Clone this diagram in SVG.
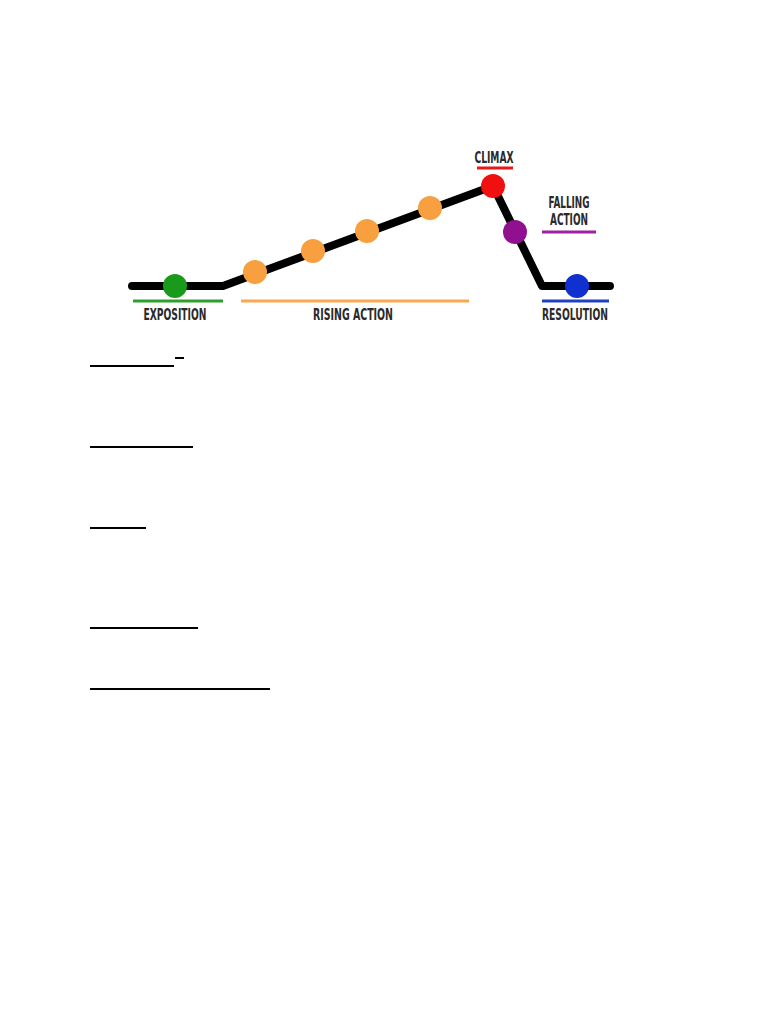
<svg xmlns="http://www.w3.org/2000/svg" width="768" height="1024" viewBox="0 0 768 1024">
<style>
.lbl{font-family:"DejaVu Sans Condensed","Liberation Sans Narrow","Liberation Sans",sans-serif;font-stretch:condensed;font-size:15px;font-weight:bold;fill:#2a2a2a;text-anchor:middle}
.dot{stroke:none}
.ul{stroke-width:3;fill:none}
.blank{stroke:#000;stroke-width:2;fill:none}
</style>
<rect width="768" height="1024" fill="#fff"/>
<g id="connectors">
<polyline points="132,286 223,286 493,186 542,286 610,286" fill="none" stroke="#000" stroke-width="8" stroke-linejoin="round" stroke-linecap="round"/>
</g>
<g id="exposition">
<circle class="dot" cx="175" cy="286" r="12" fill="#1a9a1a"/>
<line class="ul" x1="133" y1="301" x2="223" y2="301" stroke="#2ca02c"/>
<text class="lbl" x="175" y="320" textLength="63" lengthAdjust="spacingAndGlyphs">EXPOSITION</text>
</g>
<g id="rising-action">
<circle class="dot" cx="255" cy="272" r="12" fill="#f8a040"/>
<circle class="dot" cx="313" cy="251" r="12" fill="#f8a040"/>
<circle class="dot" cx="367" cy="231" r="12" fill="#f8a040"/>
<circle class="dot" cx="430" cy="208" r="12" fill="#f8a040"/>
<line class="ul" x1="241" y1="301" x2="469" y2="301" stroke="#f8a850"/>
<text class="lbl" x="353" y="320" textLength="80" lengthAdjust="spacingAndGlyphs">RISING ACTION</text>
</g>
<g id="climax">
<circle class="dot" cx="493" cy="186" r="12" fill="#f01010"/>
<line class="ul" x1="477" y1="168" x2="513" y2="168" stroke="#e81818"/>
<text class="lbl" x="494" y="163" textLength="39" lengthAdjust="spacingAndGlyphs">CLIMAX</text>
</g>
<g id="falling-action">
<circle class="dot" cx="515" cy="232" r="12" fill="#901090"/>
<line class="ul" x1="542" y1="232" x2="596" y2="232" stroke="#a020a0"/>
<text class="lbl" x="569" y="208" textLength="41" lengthAdjust="spacingAndGlyphs">FALLING</text>
<text class="lbl" x="569" y="225" textLength="38" lengthAdjust="spacingAndGlyphs">ACTION</text>
</g>
<g id="resolution">
<circle class="dot" cx="577" cy="286" r="12" fill="#1030d0"/>
<line class="ul" x1="542" y1="301" x2="609" y2="301" stroke="#2040c0"/>
<text class="lbl" x="575" y="320" textLength="66" lengthAdjust="spacingAndGlyphs">RESOLUTION</text>
</g>
<g id="blanks">
<line class="blank" x1="90" y1="366" x2="174" y2="366"/>
<line class="blank" x1="175" y1="358" x2="184" y2="358" stroke-width="1.5"/>
<line class="blank" x1="90" y1="447" x2="193" y2="447"/>
<line class="blank" x1="90" y1="528" x2="146" y2="528"/>
<line class="blank" x1="90" y1="628" x2="198" y2="628"/>
<line class="blank" x1="90" y1="689" x2="270" y2="689"/>
</g>
</svg>
